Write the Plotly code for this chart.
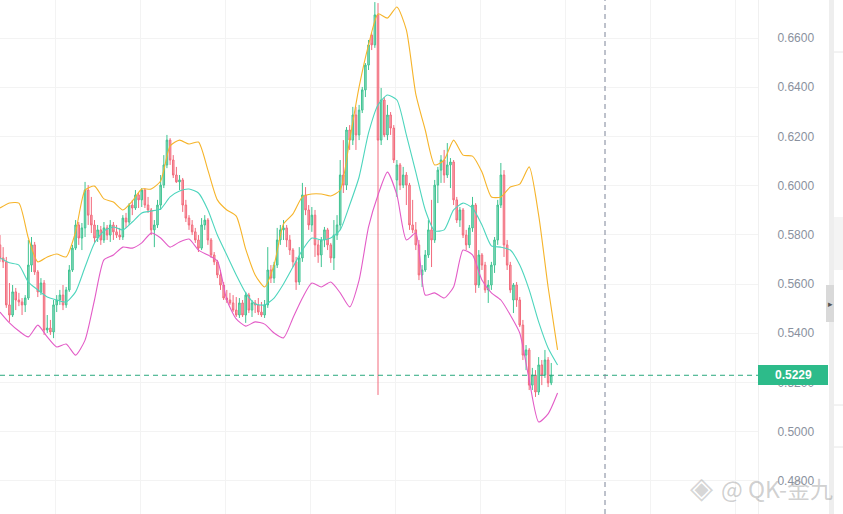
import plotly.graph_objects as go

# ---------------- data ----------------
opens = [
0.5759,0.5706,0.5690,0.5515,0.5474,0.5568,0.5535,0.5527,0.5515,0.5543,
0.5677,0.5759,0.5649,0.5568,0.5604,0.5413,0.5421,0.5405,0.5515,0.5535,
0.5555,0.5515,0.5576,0.5657,0.5746,0.5840,0.5787,0.5828,0.5982,0.5880,
0.5840,0.5787,0.5820,0.5779,0.5828,0.5799,0.5840,0.5812,0.5799,0.5791,
0.5868,0.5852,0.5921,0.5909,0.5962,0.5942,0.5982,0.5921,0.5901,0.5820,
0.5840,0.5921,0.6002,0.6084,0.6185,0.6104,0.6043,0.6015,0.6023,0.5921,
0.5868,0.5840,0.5812,0.5779,0.5746,0.5840,0.5860,0.5779,0.5718,0.5690,
0.5637,0.5596,0.5543,0.5535,0.5523,0.5494,0.5474,0.5523,0.5474,0.5555,
0.5494,0.5523,0.5515,0.5486,0.5474,0.5515,0.5657,0.5624,0.5677,0.5779,
0.5820,0.5828,0.5779,0.5738,0.5690,0.5608,0.5706,0.5962,0.5901,0.5840,
0.5880,0.5759,0.5718,0.5779,0.5820,0.5759,0.5706,0.5799,0.5840,0.6043,
0.6002,0.6226,0.6185,0.6287,0.6206,0.6307,0.6389,0.6490,0.6612,0.6572,
0.6694,0.6185,0.6348,0.6206,0.6287,0.6234,0.6023,0.6084,0.6002,0.6043,
0.6002,0.5840,0.5820,0.5759,0.5637,0.5657,0.5718,0.5820,0.5779,0.6002,
0.6063,0.6104,0.6043,0.6084,0.6096,0.5942,0.5860,0.5901,0.5799,0.5759,
0.5828,0.5921,0.5596,0.5718,0.5677,0.5576,0.5596,0.5677,0.5779,0.5921,
0.6043,0.5759,0.5677,0.5535,0.5596,0.5535,0.5433,0.5311,0.5332,0.5189,
0.5230,0.5161,0.5271,0.5230,0.5291,0.5198]
highs = [
0.5799,0.5750,0.5710,0.5604,0.5596,0.5584,0.5564,0.5543,0.5555,0.5779,
0.5791,0.5771,0.5657,0.5624,0.5616,0.5474,0.5454,0.5535,0.5555,0.5576,
0.5596,0.5588,0.5677,0.5759,0.5860,0.5852,0.5848,0.6015,0.6002,0.5954,
0.5860,0.5840,0.5836,0.5852,0.5840,0.5860,0.5852,0.5840,0.5828,0.5880,
0.5889,0.5929,0.5942,0.5982,0.5974,0.5990,0.5990,0.5954,0.5909,0.5860,
0.5942,0.6043,0.6124,0.6206,0.6193,0.6124,0.6076,0.6043,0.6031,0.5942,
0.5880,0.5860,0.5828,0.5799,0.5868,0.5880,0.5868,0.5787,0.5730,0.5698,
0.5657,0.5608,0.5576,0.5564,0.5555,0.5547,0.5543,0.5535,0.5568,0.5564,
0.5535,0.5535,0.5543,0.5527,0.5535,0.5750,0.5677,0.5690,0.5828,0.5840,
0.5860,0.5840,0.5799,0.5746,0.5710,0.5750,0.6011,0.5994,0.5921,0.5913,
0.5901,0.5779,0.5791,0.5832,0.5828,0.5767,0.5860,0.5880,0.6104,0.6185,
0.6238,0.6246,0.6320,0.6320,0.6328,0.6401,0.6498,0.6592,0.6620,0.6746,
0.6742,0.6397,0.6360,0.6328,0.6299,0.6246,0.6104,0.6092,0.6076,0.6055,
0.6011,0.5942,0.5852,0.5779,0.5677,0.5738,0.5860,0.5942,0.6023,0.6076,
0.6124,0.6145,0.6173,0.6112,0.6104,0.5954,0.5913,0.5909,0.5820,0.5840,
0.5954,0.5929,0.5738,0.5726,0.5690,0.5616,0.5690,0.5791,0.5942,0.6092,
0.6063,0.5779,0.5690,0.5604,0.5608,0.5547,0.5454,0.5352,0.5340,0.5259,
0.5250,0.5303,0.5291,0.5332,0.5303,0.5279]
lows = [
0.5690,0.5665,0.5503,0.5446,0.5466,0.5494,0.5510,0.5474,0.5486,0.5535,
0.5649,0.5637,0.5547,0.5555,0.5393,0.5401,0.5393,0.5380,0.5486,0.5515,
0.5494,0.5503,0.5568,0.5649,0.5738,0.5759,0.5738,0.5791,0.5840,0.5807,
0.5767,0.5771,0.5759,0.5767,0.5779,0.5771,0.5779,0.5787,0.5779,0.5779,
0.5828,0.5840,0.5880,0.5901,0.5909,0.5913,0.5909,0.5889,0.5799,0.5750,
0.5828,0.5901,0.5990,0.6071,0.6084,0.6031,0.6011,0.5982,0.5893,0.5852,
0.5820,0.5799,0.5767,0.5730,0.5738,0.5820,0.5759,0.5706,0.5677,0.5624,
0.5576,0.5535,0.5523,0.5515,0.5486,0.5466,0.5462,0.5466,0.5442,0.5482,
0.5466,0.5482,0.5474,0.5466,0.5462,0.5503,0.5604,0.5604,0.5665,0.5759,
0.5779,0.5750,0.5718,0.5669,0.5576,0.5596,0.5690,0.5880,0.5820,0.5812,
0.5710,0.5686,0.5669,0.5750,0.5738,0.5686,0.5657,0.5779,0.5820,0.5970,
0.5982,0.6145,0.6165,0.6145,0.6185,0.6295,0.6360,0.6470,0.6551,0.6560,
0.5149,0.6165,0.6197,0.6185,0.6206,0.6092,0.5954,0.5982,0.5990,0.5921,
0.5820,0.5807,0.5738,0.5616,0.5588,0.5649,0.5706,0.5669,0.5767,0.5929,
0.6011,0.6011,0.6031,0.5990,0.5921,0.5848,0.5832,0.5787,0.5738,0.5746,
0.5812,0.5564,0.5584,0.5657,0.5564,0.5523,0.5576,0.5645,0.5759,0.5909,
0.5710,0.5657,0.5564,0.5482,0.5507,0.5425,0.5291,0.5250,0.5169,0.5169,
0.5141,0.5149,0.5189,0.5218,0.5181,0.5189]
closes = [
0.5706,0.5690,0.5515,0.5474,0.5568,0.5535,0.5527,0.5515,0.5543,0.5677,
0.5759,0.5649,0.5568,0.5604,0.5413,0.5421,0.5405,0.5515,0.5535,0.5555,
0.5515,0.5576,0.5657,0.5746,0.5840,0.5787,0.5828,0.5982,0.5880,0.5840,
0.5787,0.5820,0.5779,0.5828,0.5799,0.5840,0.5812,0.5799,0.5791,0.5868,
0.5852,0.5921,0.5909,0.5962,0.5942,0.5982,0.5921,0.5901,0.5820,0.5840,
0.5921,0.6002,0.6084,0.6185,0.6104,0.6043,0.6015,0.6023,0.5921,0.5868,
0.5840,0.5812,0.5779,0.5746,0.5840,0.5860,0.5779,0.5718,0.5690,0.5637,
0.5596,0.5543,0.5535,0.5523,0.5494,0.5474,0.5523,0.5474,0.5555,0.5494,
0.5523,0.5515,0.5486,0.5474,0.5515,0.5657,0.5624,0.5677,0.5779,0.5820,
0.5828,0.5779,0.5738,0.5690,0.5608,0.5706,0.5962,0.5901,0.5840,0.5880,
0.5759,0.5718,0.5779,0.5820,0.5759,0.5706,0.5799,0.5840,0.6043,0.6002,
0.6226,0.6185,0.6287,0.6206,0.6307,0.6389,0.6490,0.6572,0.6572,0.6694,
0.6185,0.6348,0.6206,0.6287,0.6234,0.6104,0.6084,0.6002,0.6043,0.6002,
0.5840,0.5820,0.5759,0.5637,0.5657,0.5718,0.5820,0.5779,0.6002,0.6063,
0.6104,0.6043,0.6084,0.6096,0.5942,0.5860,0.5901,0.5799,0.5759,0.5828,
0.5921,0.5596,0.5718,0.5677,0.5576,0.5596,0.5677,0.5779,0.5921,0.6043,
0.5759,0.5677,0.5576,0.5596,0.5535,0.5433,0.5311,0.5332,0.5189,0.5230,
0.5161,0.5271,0.5230,0.5291,0.5198,0.5229]

# Bollinger bands, one reading every 3 candles
band_step = 3
upper = [
0.5909,0.5929,0.5929,0.5787,0.5690,0.5710,0.5722,0.5710,0.5812,0.5982,
0.5998,0.5946,0.5933,0.5901,0.5937,0.5986,0.5986,0.6019,0.6161,0.6185,
0.6169,0.6177,0.6063,0.5942,0.5901,0.5876,0.5742,0.5637,0.5588,0.5677,
0.5844,0.5885,0.5954,0.5966,0.5966,0.5958,0.5982,0.6185,0.6401,0.6572,
0.6698,0.6681,0.6726,0.6633,0.6372,0.6226,0.6084,0.6104,0.6185,0.6124,
0.6120,0.6055,0.5954,0.5954,0.5994,0.6006,0.6076,0.5880,0.5588,0.5332]
middle = [
0.5706,0.5686,0.5677,0.5608,0.5576,0.5547,0.5535,0.5527,0.5568,0.5669,
0.5767,0.5816,0.5832,0.5820,0.5852,0.5889,0.5897,0.5905,0.5954,0.5978,
0.5986,0.5970,0.5901,0.5799,0.5718,0.5637,0.5564,0.5519,0.5515,0.5543,
0.5600,0.5669,0.5738,0.5787,0.5779,0.5787,0.5820,0.5921,0.6035,0.6214,
0.6328,0.6368,0.6348,0.6206,0.6055,0.5901,0.5816,0.5820,0.5901,0.5929,
0.5909,0.5840,0.5755,0.5750,0.5738,0.5677,0.5576,0.5446,0.5340,0.5271]
lower = [
0.5486,0.5442,0.5409,0.5385,0.5433,0.5385,0.5344,0.5356,0.5311,0.5372,
0.5535,0.5698,0.5718,0.5750,0.5746,0.5767,0.5807,0.5787,0.5750,0.5771,
0.5783,0.5738,0.5718,0.5694,0.5535,0.5458,0.5429,0.5446,0.5437,0.5401,
0.5381,0.5462,0.5543,0.5604,0.5588,0.5608,0.5564,0.5507,0.5616,0.5832,
0.5962,0.6055,0.5962,0.5779,0.5807,0.5555,0.5564,0.5543,0.5588,0.5738,
0.5718,0.5616,0.5564,0.5535,0.5474,0.5401,0.5210,0.5039,0.5072,0.5157]

y_ticks = [0.48, 0.50, 0.52, 0.54, 0.56, 0.58, 0.60, 0.62, 0.64, 0.66]
last_price = 0.5229
watermark = "@ QK-金九"

# ---------------- figure ----------------
W, H = 843, 514
R_MARGIN = 85
plot_w = W - R_MARGIN
px_per_bar = 3.15

x_idx = list(range(len(closes)))
band_x = list(range(0, band_step * len(upper), band_step))

fig = go.Figure()
fig.add_trace(go.Candlestick(
    x=x_idx, open=opens, high=highs, low=lows, close=closes,
    increasing=dict(line=dict(color="#3ec391", width=1), fillcolor="#98dcc4"),
    decreasing=dict(line=dict(color="#f26b7c", width=1), fillcolor="#f7abb2"),
    whiskerwidth=0, showlegend=False, hoverinfo="skip"))

for vals, col in [(upper, "#f6b42a"), (middle, "#4dd5bd"), (lower, "#e35cc7")]:
    fig.add_trace(go.Scatter(x=band_x, y=vals, mode="lines",
                             line=dict(color=col, width=1.1, shape="spline", smoothing=0.6),
                             showlegend=False, hoverinfo="skip"))

px2p = 1.0 / plot_w  # pixel -> paper (x)
def py(p):  # pixel row -> paper (y)
    return 1 - p / H

shapes = [
    dict(type="line", xref="paper", yref="y", x0=0, x1=1, y0=last_price, y1=last_price,
         line=dict(color="#2aa87d", width=1, dash="5px,4px")),
    dict(type="line", xref="paper", yref="paper", x0=605 * px2p, x1=605 * px2p, y0=0, y1=1,
         line=dict(color="#7c8498", width=1, dash="5px,4px")),
    dict(type="rect", xref="paper", yref="paper", x0=1.0, x1=828 * px2p,
         y0=py(385), y1=py(365), fillcolor="#2dbb8a", line=dict(width=0)),
    dict(type="rect", xref="paper", yref="paper", x0=829 * px2p, x1=834 * px2p, y0=0, y1=1,
         fillcolor="#eeeeee", line=dict(width=0)),
    dict(type="rect", xref="paper", yref="paper", x0=826 * px2p, x1=834 * px2p,
         y0=py(322), y1=py(285), fillcolor="#d9d9d9", line=dict(width=0)),
    dict(type="rect", xref="paper", yref="paper", x0=834 * px2p, x1=843 * px2p,
         y0=py(270), y1=py(217), fillcolor="#f4f4f4", line=dict(width=0)),
    dict(type="line", xref="paper", yref="paper", x0=834 * px2p, x1=843 * px2p,
         y0=py(52), y1=py(52), line=dict(color="#e6e6e6", width=1)),
    dict(type="line", xref="paper", yref="paper", x0=834 * px2p, x1=843 * px2p,
         y0=py(405), y1=py(405), line=dict(color="#e6e6e6", width=1)),
    dict(type="line", xref="paper", yref="paper", x0=834 * px2p, x1=843 * px2p,
         y0=py(447), y1=py(447), line=dict(color="#e6e6e6", width=1)),
]

annotations = [
    dict(xref="paper", yref="paper", x=793 * px2p, y=py(375), text="<b>%.4f</b>" % last_price,
         showarrow=False, font=dict(color="white", size=12, family="Liberation Sans, Arial"),
         xanchor="center", yanchor="middle"),
    dict(xref="paper", yref="paper", x=830 * px2p, y=py(303), text="▸", showarrow=False,
         font=dict(color="#555", size=9), xanchor="center", yanchor="middle"),
    dict(xref="paper", yref="paper", x=701 * px2p, y=py(487), text="◈", showarrow=False,
         font=dict(color="rgba(150,150,150,0.4)", size=30, family="DejaVu Sans"),
         xanchor="center", yanchor="middle"),
    dict(xref="paper", yref="paper", x=719 * px2p, y=py(488), text=watermark, showarrow=False,
         font=dict(color="rgba(150,150,150,0.45)", size=23, family="Noto Sans CJK SC"),
         xanchor="left", yanchor="middle"),
]

grid_start = 55 / px_per_bar
grid_step = 85 / px_per_bar
fig.update_layout(
    width=W, height=H, margin=dict(l=0, r=R_MARGIN, t=0, b=0),
    paper_bgcolor="white", plot_bgcolor="white",
    shapes=shapes, annotations=annotations, showlegend=False,
    xaxis=dict(range=[0, plot_w / px_per_bar], rangeslider=dict(visible=False),
               showticklabels=False, ticks="", zeroline=False,
               tickvals=[grid_start + grid_step * k for k in range(9)],
               showgrid=True, gridcolor="#f3f3f3", gridwidth=1),
    yaxis=dict(side="right", range=[0.46651, 0.67545],
               tickvals=y_ticks, ticktext=["%.4f" % v for v in y_ticks],
               tickfont=dict(color="#8a919e", size=12, family="Liberation Sans, Arial"),
               ticks="", ticklabelstandoff=16, showgrid=True, gridcolor="#f3f3f3",
               zeroline=False, showline=True, linecolor="#f0f0f0"),
)

fig.write_html("out.html", config={"displayModeBar": False},
               post_script="document.body.style.margin='0px';document.body.style.overflow='hidden';")
